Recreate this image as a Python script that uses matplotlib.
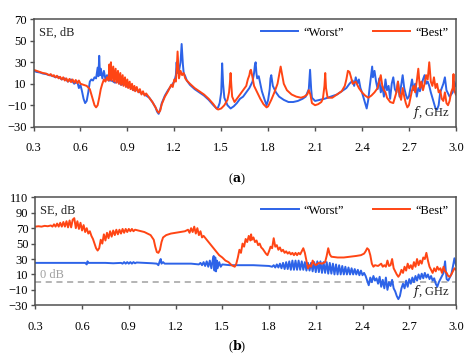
import matplotlib
matplotlib.use("Agg")
from matplotlib import pyplot as plt

# (frequency GHz, SE dB)
top_worst = [(0.30,22),(0.32,21),(0.34,20.5),(0.36,19.5),(0.38,19),(0.40,18),(0.42,17.5),(0.44,16),(0.46,16.5),(0.48,14),(0.50,15),(0.52,12),(0.54,14),(0.56,10),(0.58,12),(0.59,6),(0.60,9),(0.61,3),(0.62,-4),(0.63,-8),(0.64,-6),(0.65,2),(0.66,12),(0.67,14),(0.68,13),(0.69,16),(0.70,15),(0.71,25),(0.715,17),(0.72,36),(0.725,18),(0.73,24),(0.74,15),(0.75,22),(0.76,14),(0.77,18),(0.78,13),(0.80,13),(0.82,11),(0.84,12),(0.86,9),(0.88,10),(0.90,7),(0.92,7),(0.94,4),(0.96,4),(0.98,2),(1.00,1),(1.02,-1),(1.04,-3),(1.06,-7),(1.08,-12),(1.09,-16),(1.10,-18),(1.11,-14),(1.12,-8),(1.14,-1),(1.16,4),(1.18,8),(1.20,12),(1.21,18),(1.215,30),(1.22,20),(1.23,22),(1.24,30),(1.247,47),(1.255,28),(1.26,20),(1.27,17),(1.28,13),(1.30,9),(1.33,5),(1.36,2),(1.39,-1),(1.42,-5),(1.45,-10),(1.47,-13),(1.48,-12),(1.49,-8),(1.50,2),(1.506,29),(1.512,10),(1.52,-3),(1.54,-10),(1.56,-13),(1.58,-11),(1.60,-8),(1.62,-4),(1.64,-2),(1.66,2),(1.68,6),(1.70,12),(1.71,20),(1.715,27),(1.72,30),(1.725,20),(1.73,15),(1.74,17),(1.75,10),(1.76,3),(1.78,-6),(1.79,-10),(1.80,-5),(1.81,5),(1.815,15),(1.82,18),(1.83,8),(1.85,2),(1.87,-2),(1.90,-5),(1.93,-7),(1.96,-7),(1.99,-6),(2.02,-4),(2.04,-2),(2.06,5),(2.068,23),(2.075,5),(2.08,-3),(2.10,-6),(2.13,-5),(2.16,-4),(2.20,-2),(2.24,0),(2.27,3),(2.30,6),(2.32,10),(2.34,13),(2.35,8),(2.36,16),(2.37,10),(2.38,14),(2.39,6),(2.40,2),(2.42,-8),(2.43,-13),(2.44,-5),(2.45,8),(2.46,20),(2.465,26),(2.47,16),(2.48,22),(2.49,12),(2.50,5),(2.51,15),(2.52,2),(2.53,8),(2.54,-2),(2.55,14),(2.56,4),(2.57,8),(2.58,-4),(2.59,10),(2.60,16),(2.61,5),(2.62,2),(2.63,12),(2.64,-2),(2.65,8),(2.66,18),(2.67,6),(2.68,0),(2.69,-4),(2.70,-2),(2.71,6),(2.72,14),(2.73,4),(2.74,10),(2.75,-2),(2.76,6),(2.77,3),(2.78,8),(2.79,14),(2.80,18),(2.81,10),(2.82,12),(2.83,8),(2.84,2),(2.86,-8),(2.87,-13),(2.88,-14),(2.89,-10),(2.90,2),(2.91,6),(2.92,10),(2.93,16),(2.94,4),(2.96,-2),(2.98,2),(2.99,12),(3.00,8)]

top_best = [(0.30,23),(0.32,22),(0.34,21),(0.36,20),(0.38,19.5),(0.40,18),(0.41,19),(0.42,17),(0.43,18),(0.44,16),(0.45,17.5),(0.46,15),(0.47,16.5),(0.48,14),(0.49,16),(0.50,13),(0.51,15),(0.52,12),(0.53,14.5),(0.54,11.5),(0.55,14),(0.56,11),(0.57,13.5),(0.58,10.5),(0.59,13),(0.60,10),(0.62,9),(0.64,8),(0.66,5),(0.67,0),(0.68,-5),(0.69,-10),(0.70,-12),(0.71,-10),(0.72,-3),(0.73,5),(0.74,10),(0.75,14),(0.76,12),(0.77,16),(0.78,13),(0.785,28),(0.79,14),(0.795,30),(0.80,13),(0.81,26),(0.815,12),(0.825,24),(0.83,11),(0.84,22),(0.845,10),(0.855,20),(0.86,9),(0.87,18),(0.875,8),(0.885,16),(0.89,7),(0.90,14),(0.905,6),(0.915,12),(0.92,5),(0.93,10),(0.935,4),(0.945,8),(0.95,3),(0.96,7),(0.97,2),(0.98,5),(0.99,0),(1.00,3),(1.01,-1),(1.02,1),(1.04,-3),(1.06,-7),(1.08,-12),(1.09,-15),(1.10,-17),(1.11,-15),(1.12,-9),(1.14,-2),(1.16,3),(1.18,9),(1.19,7),(1.20,14),(1.21,12),(1.215,22),(1.221,40),(1.227,22),(1.23,15),(1.24,22),(1.25,18),(1.26,20),(1.27,15),(1.28,13),(1.30,10),(1.33,6),(1.36,3),(1.39,0),(1.42,-4),(1.45,-9),(1.47,-13),(1.48,-14),(1.50,-13),(1.52,-10),(1.54,-5),(1.55,2),(1.555,10),(1.56,20),(1.565,8),(1.57,-2),(1.585,-7),(1.60,-4),(1.62,0),(1.64,4),(1.66,8),(1.67,14),(1.68,18),(1.685,22),(1.69,23),(1.70,16),(1.71,8),(1.73,2),(1.75,-4),(1.77,-9),(1.79,-12),(1.80,-11),(1.82,-5),(1.84,2),(1.86,10),(1.87,18),(1.88,26),(1.89,18),(1.90,10),(1.92,4),(1.95,0),(1.98,-2),(2.01,-3),(2.03,-2),(2.05,0),(2.06,4),(2.07,0),(2.08,-8),(2.10,-10),(2.12,-9),(2.14,-7),(2.15,-4),(2.16,8),(2.165,20),(2.17,6),(2.18,-3),(2.21,-3),(2.24,0),(2.27,3),(2.29,8),(2.30,14),(2.31,22),(2.32,21),(2.33,16),(2.34,10),(2.36,12),(2.38,6),(2.40,2),(2.42,-1),(2.44,-3),(2.46,-1),(2.48,2),(2.50,6),(2.51,12),(2.52,18),(2.53,8),(2.54,4),(2.55,2),(2.56,-3),(2.58,-7),(2.60,-8),(2.62,2),(2.63,12),(2.64,0),(2.65,-5),(2.66,6),(2.67,-2),(2.68,-8),(2.69,-12),(2.70,-10),(2.71,-3),(2.72,4),(2.73,8),(2.74,2),(2.75,12),(2.76,24),(2.77,6),(2.78,12),(2.79,4),(2.80,10),(2.81,18),(2.82,14),(2.83,30),(2.84,12),(2.85,8),(2.86,16),(2.87,6),(2.88,10),(2.89,2),(2.90,4),(2.91,-4),(2.92,-6),(2.93,2),(2.94,-8),(2.95,-10),(2.96,-6),(2.97,2),(2.98,6),(2.985,19),(2.99,4),(3.00,0)]

bot_worst = [(0.30,25),(0.40,25),(0.50,25),(0.62,25),(0.63,23),(0.635,27),(0.64,25),(0.75,25),(0.80,24.5),(0.85,25),(0.86,24),(0.87,26),(0.88,24),(0.89,26),(0.90,24),(0.91,26),(0.92,24),(0.93,26),(0.94,24.5),(0.95,25.5),(1.00,25),(1.05,24.5),(1.08,24),(1.09,22),(1.10,28),(1.105,30),(1.11,24),(1.12,26),(1.13,24),(1.20,24),(1.30,24),(1.35,23),(1.36,25),(1.37,22),(1.38,26),(1.39,21),(1.40,27),(1.41,20),(1.42,28),(1.43,18),(1.44,30),(1.445,34),(1.45,15),(1.455,32),(1.46,14),(1.465,28),(1.47,18),(1.48,26),(1.49,20),(1.50,23),(1.55,22),(1.60,22),(1.65,22),(1.70,22),(1.75,21.5),(1.80,21),(1.82,20),(1.83,22),(1.84,19),(1.85,23),(1.86,19),(1.87,24),(1.88,18),(1.89,25),(1.90,17),(1.91,26),(1.92,17),(1.93,27),(1.94,16),(1.95,28),(1.96,16),(1.97,28),(1.98,16),(1.99,28),(2.00,16),(2.01,27),(2.02,16),(2.03,26),(2.04,15),(2.05,25),(2.06,15),(2.07,25),(2.08,14),(2.09,26),(2.10,13),(2.11,27),(2.12,13),(2.13,27),(2.14,12),(2.15,26),(2.16,12),(2.17,26),(2.18,11),(2.19,25),(2.20,11),(2.21,24),(2.22,10),(2.23,23),(2.24,10),(2.25,22),(2.26,10),(2.27,21),(2.28,10),(2.29,20),(2.30,10),(2.31,19),(2.32,10),(2.33,18),(2.34,10),(2.35,17),(2.36,10),(2.37,16),(2.38,9),(2.39,15),(2.40,9),(2.41,12),(2.42,8),(2.43,2),(2.44,-4),(2.45,6),(2.46,0),(2.47,8),(2.48,2),(2.49,5),(2.50,-2),(2.51,7),(2.52,-6),(2.53,3),(2.54,-8),(2.55,6),(2.56,-10),(2.57,0),(2.58,-5),(2.59,3),(2.60,-8),(2.61,-12),(2.62,-18),(2.63,-22),(2.64,-18),(2.65,-8),(2.66,-2),(2.67,-8),(2.68,2),(2.69,-6),(2.70,4),(2.71,-2),(2.72,6),(2.73,0),(2.74,8),(2.75,2),(2.76,10),(2.77,4),(2.78,11),(2.79,5),(2.80,12),(2.81,6),(2.82,10),(2.83,4),(2.84,8),(2.85,2),(2.86,5),(2.87,-2),(2.88,-6),(2.89,0),(2.90,4),(2.91,8),(2.92,12),(2.93,27),(2.935,14),(2.94,4),(2.95,2),(2.96,6),(2.97,10),(2.98,20),(2.99,31),(3.00,22)]

bot_best = [(0.30,72),(0.32,72.5),(0.34,72),(0.36,73),(0.38,72.5),(0.40,73.5),(0.41,72),(0.42,75),(0.43,72),(0.44,76),(0.45,72),(0.46,77),(0.47,72),(0.48,78),(0.49,72),(0.50,79),(0.51,71),(0.52,80),(0.53,71),(0.54,81),(0.55,83),(0.56,70),(0.57,79),(0.58,69),(0.59,77),(0.60,67),(0.61,74),(0.62,65),(0.63,70),(0.64,63),(0.65,66),(0.66,60),(0.67,56),(0.68,50),(0.69,44),(0.70,41),(0.71,44),(0.72,55),(0.73,50),(0.74,62),(0.75,54),(0.76,64),(0.77,57),(0.78,66),(0.79,59),(0.80,67),(0.81,61),(0.82,68),(0.83,62),(0.84,68),(0.85,63),(0.86,69),(0.87,64),(0.88,69),(0.89,65),(0.90,69),(0.91,66),(0.92,69),(0.93,66),(0.94,68),(0.96,67),(0.98,66),(1.00,65),(1.02,63),(1.04,61),(1.06,55),(1.07,46),(1.08,39),(1.09,38),(1.10,42),(1.11,52),(1.12,58),(1.14,61),(1.17,63),(1.20,64),(1.23,65),(1.26,66),(1.28,68),(1.29,64),(1.30,70),(1.31,65),(1.32,72),(1.33,63),(1.34,70),(1.35,61),(1.36,66),(1.37,58),(1.38,60),(1.40,55),(1.42,50),(1.44,45),(1.46,40),(1.48,35),(1.50,32),(1.52,28),(1.54,26),(1.56,22),(1.58,20),(1.59,24),(1.60,32),(1.61,42),(1.62,38),(1.63,50),(1.64,46),(1.65,56),(1.66,52),(1.67,60),(1.68,54),(1.685,62),(1.69,55),(1.70,58),(1.71,52),(1.72,54),(1.73,48),(1.74,50),(1.75,45),(1.76,43),(1.77,40),(1.78,37),(1.79,35),(1.80,40),(1.81,46),(1.82,44),(1.83,57),(1.84,46),(1.85,48),(1.86,42),(1.87,45),(1.88,40),(1.89,42),(1.90,38),(1.91,40),(1.92,37),(1.93,39),(1.94,36),(1.95,38),(1.96,35),(1.97,38),(1.98,35),(1.99,38),(2.00,36),(2.01,40),(2.02,44),(2.03,38),(2.04,28),(2.05,18),(2.06,22),(2.07,20),(2.08,28),(2.09,24),(2.10,22),(2.12,25),(2.14,24),(2.16,26),(2.17,34),(2.18,44),(2.19,36),(2.20,33),(2.24,32),(2.28,32),(2.32,33),(2.36,34),(2.39,35),(2.41,37),(2.42,40),(2.43,44),(2.44,42),(2.45,35),(2.46,24),(2.47,20),(2.48,22),(2.50,21),(2.52,24),(2.53,20),(2.54,22),(2.55,20),(2.56,28),(2.57,21),(2.58,22),(2.59,30),(2.60,18),(2.61,14),(2.62,10),(2.63,7),(2.64,10),(2.65,16),(2.66,12),(2.67,20),(2.68,15),(2.69,24),(2.70,18),(2.71,22),(2.72,17),(2.73,26),(2.74,20),(2.75,30),(2.76,22),(2.77,28),(2.78,24),(2.79,32),(2.80,30),(2.81,38),(2.82,28),(2.83,20),(2.84,16),(2.85,12),(2.86,18),(2.87,14),(2.88,20),(2.89,16),(2.90,18),(2.91,12),(2.92,20),(2.93,14),(2.94,12),(2.95,8),(2.96,7),(2.97,10),(2.98,14),(2.99,18),(3.00,16)]

x_ticks = [0.3, 0.6, 0.9, 1.2, 1.5, 1.8, 2.1, 2.4, 2.7, 3.0]
top_yticks = [-30, -10, 10, 30, 50, 70]
bot_yticks = [-30, -10, 10, 30, 50, 70, 90, 110]

BLUE = "#2d63e8"
RED = "#ff4514"
FRAME = "#505050"
FS = 9

plt.rcParams["font.family"] = ["Liberation Serif", "DejaVu Serif"]
plt.rcParams["mathtext.fontset"] = "dejavuserif"

fig = plt.figure(figsize=(4.74, 3.57), dpi=100)
ax1 = fig.add_axes([0.0707, 0.645, 0.891, 0.301])
ax2 = fig.add_axes([0.0745, 0.1448, 0.8875, 0.3025])


def draw(ax, worst, best, yticks, ylim):
    fw, sw = zip(*worst)
    fb, sb = zip(*best)
    ax.plot(fw, sw, color=BLUE, lw=1.4, label="\u201cWorst\u201d")
    ax.plot(fb, sb, color=RED, lw=1.4, label="\u201cBest\u201d")
    ax.set_xlim(0.3, 3.0)
    ax.set_ylim(*ylim)
    ax.set_xticks(x_ticks)
    ax.set_xticklabels([f"{t:.1f}" for t in x_ticks])
    ax.set_yticks(yticks)
    ax.set_yticklabels([str(t).replace("-", "\u2212") for t in yticks])
    ax.tick_params(direction="out", length=3, width=1, color=FRAME,
                   labelsize=FS, pad=8)
    ax.tick_params(axis="y", pad=2)
    for s in ax.spines.values():
        s.set_color(FRAME)
        s.set_linewidth(1.1)
    ax.text(0.012, 0.93, "SE, dB", transform=ax.transAxes, fontsize=FS,
            va="top", ha="left", color="#222222")
    ax.text(0.985, 0.05, "$f$, GHz", transform=ax.transAxes, fontsize=FS,
            va="bottom", ha="right", color="#222222")
    ax.legend(loc="upper right", ncol=2, frameon=False, fontsize=FS,
              handlelength=3.0, columnspacing=2.3, borderaxespad=0.2,
              handletextpad=0.4)


draw(ax1, top_worst, top_best, top_yticks, (-30, 70))
draw(ax2, bot_worst, bot_best, bot_yticks, (-30, 110))

ax2.axhline(0, color="#a0a0a0", lw=1.1, ls=(0, (4, 3)), zorder=0)
ax2.text(0.33, 2, "0 dB", color="#a0a0a0", fontsize=FS, va="bottom")

fig.text(0.5, 0.49, r"($\mathbf{a}$)", ha="center", va="baseline", fontsize=FS)
fig.text(0.5, 0.02, r"($\mathbf{b}$)", ha="center", va="baseline", fontsize=FS)

fig.savefig("out.png", dpi=100)
